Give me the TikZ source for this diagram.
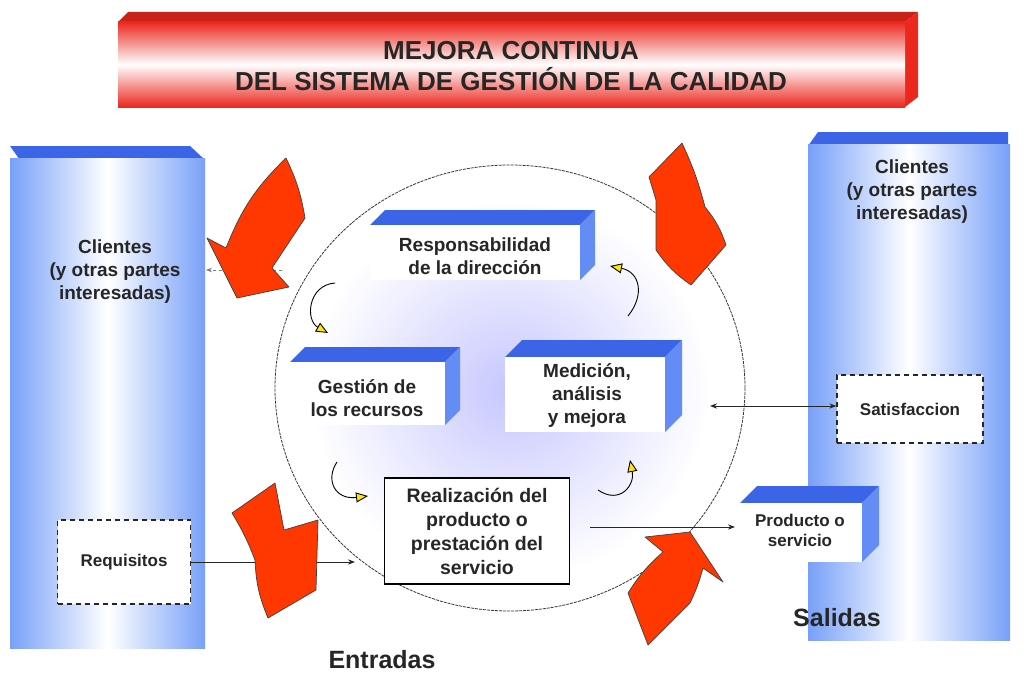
\documentclass[tikz,border=0pt]{standalone}
\usepackage{fontspec}
\setmainfont{Liberation Sans}
\usetikzlibrary{arrows.meta,calc}
\definecolor{topblue}{RGB}{60,100,230}
\definecolor{sideblue}{RGB}{100,140,245}
\definecolor{colblue}{RGB}{120,160,248}
\definecolor{redarr}{RGB}{255,55,0}
\definecolor{titred}{RGB}{235,40,30}
\newcommand\myboxthree[5]{%
 \fill[topblue] (#1,#2)--(#1+#5,#2-#5)--(#3+#5,#2-#5)--(#3,#2)--cycle;
 \fill[sideblue] (#3,#2)--(#3+#5,#2-#5)--(#3+#5,#4-#5)--(#3,#4)--cycle;
 \fill[white] (#1,#2) rectangle (#3,#4);}
\tikzset{
 lbl/.style={font=\bfseries\fontsize{19}{23}\selectfont,align=center,text=black!85},
 red arrow/.style={fill=redarr,draw=black!75,line width=0.7pt,line join=round},
 dashbox/.style={draw=black!85,line width=1.3pt,dash pattern=on 5pt off 4pt},
 thin arrow/.style={-{Stealth[length=7pt]},line width=1pt,black!85},
 loop arrow/.style={line width=0.9pt,-{Triangle[length=12pt,width=10pt,fill=yellow!90!orange]}},
}
\begin{document}
\begin{tikzpicture}[x=1pt,y=-1pt]
\useasboundingbox (0,0) rectangle (1031,677);
% title
\fill[titred!85!black] (118,22)--(128,12)--(918,12)--(905,22)--cycle;
\fill[titred] (905,22)--(918,12)--(918,97)--(905,107)--cycle;
\shade[top color=titred,bottom color=titred,middle color=white] (118,22) rectangle (905,107);
\node[font=\bfseries\fontsize{26}{31}\selectfont,align=center,text=black!85] (title) at (511,66)
 {MEJORA CONTINUA\\DEL SISTEMA DE GESTIÓN DE LA CALIDAD};
% columns
\fill[topblue] (10,146)--(190,146)--(205,160)--(20,160)--cycle;
\shade[left color=colblue,right color=colblue,middle color=white] (10,158) rectangle (205,648);
\fill[topblue] (818,132)--(1008,132)--(1008,146)--(808,146)--cycle;
\shade[left color=colblue,right color=colblue,middle color=white] (808,144) rectangle (1010,640);
\node[lbl] (cl) at (115,272) {Clientes\\(y otras partes\\interesadas)};
\node[lbl] (cr) at (912,192) {Clientes\\(y otras partes\\interesadas)};
\node[dashbox,fill=white,minimum width=133pt,minimum height=84pt,font=\bfseries\fontsize{17}{20}\selectfont,text=black!85] (req) at (124,562) {Requisitos};
\node[dashbox,fill=white,minimum width=146pt,minimum height=68pt,font=\bfseries\fontsize{17}{20}\selectfont,text=black!85] (sat) at (910,409) {Satisfaccion};
% circle
\shade[inner color=blue!22,outer color=white] (510,390) ellipse (200 and 190);
\draw[black!80,line width=0.8pt,dash pattern=on 3pt off 1pt] (510,388) ellipse (235 and 223);
\coordinate (cL) at (282,270);
% boxes
\myboxthree{370}{225}{580}{280}{15}
\node[lbl] (resp) at (475,256) {Responsabilidad\\de la dirección};
\myboxthree{290}{362}{445}{425}{15}
\node[lbl] (gest) at (367,398) {Gestión de\\los recursos};
\myboxthree{505}{357}{665}{432}{17}
\node[lbl] (med) at (587,396) {Medición,\\análisis\\y mejora};
\node[draw=black,line width=1.2pt,fill=white,minimum width=185pt,minimum height=106pt,lbl,font=\bfseries\fontsize{19.5}{24}\selectfont] (real) at (477,531) {Realización del\\producto o\\prestación del\\servicio};
\myboxthree{740}{503}{862}{562}{17}
\node[font=\bfseries\fontsize{17}{20}\selectfont,align=center,text=black!85] (prod) at (800,530) {Producto o\\servicio};
% connectors
\coordinate (reqin) at (355,562);
\draw[thin arrow] (req.east) -- (reqin);
\coordinate (realout) at (590,527);
\draw[thin arrow] (realout) -- (735,527);
\draw[{Stealth[length=7pt]}-{Stealth[length=7pt]},line width=1pt,black!85] (710,406) -- (sat.west |- 0,406);
\draw[-{Stealth[length=6pt]},black!50,dashed,line width=0.8pt] (cL) -- (206,270);
% loops
\draw[loop arrow] (335,283) .. controls (308,285) and (305,320) .. (328,333);
\draw[loop arrow] (628,316) .. controls (645,295) and (640,272) .. (610,266);
\draw[loop arrow] (337,462) .. controls (325,480) and (335,500) .. (368,496);
\draw[loop arrow] (598,490) .. controls (620,505) and (635,485) .. (630,460);
% red arrows
\filldraw[red arrow] (286,158) to[bend left=8] (305,218) -- (272,268) -- (289,287) -- (237,298) -- (207,238) -- (226,248) to[bend left=12] cycle;
\filldraw[red arrow] (682,143) -- (649,177) -- (656,200) -- (656,250) to[bend right=10] (691,285) -- (726,245) to[bend right=10] (705,207) to[bend right=5] cycle;
\filldraw[red arrow] (232,513) -- (275,483) -- (284,530) -- (318,520) -- (316,590) -- (268,618) to[bend left=10] (255,560) to[bend right=5] cycle;
\filldraw[red arrow] (645,537) -- (690,532) -- (723,582) -- (703,568) to[bend left=5] (690,603) -- (648,645) -- (628,593) to[bend left=8] (663,552) -- cycle;
% labels
\node[font=\bfseries\fontsize{25}{30}\selectfont,text=black!85] (ent) at (382,660) {Entradas};
\node[font=\bfseries\fontsize{25}{30}\selectfont,text=black!85] (sal) at (837,618) {Salidas};
\end{tikzpicture}
\end{document}
